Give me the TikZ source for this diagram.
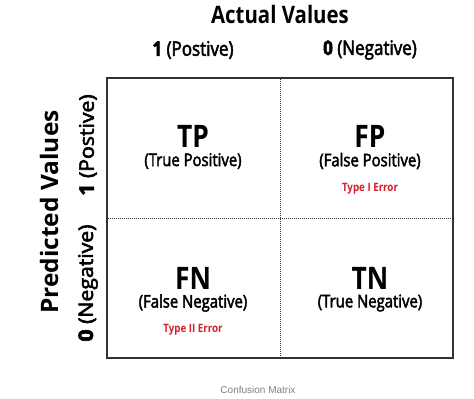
\documentclass[tikz,border=0pt]{standalone}
\usepackage{fontspec}
\setmainfont{Open Sans}[FakeStretch=0.85]
\newfontfamily\semifont{Open Sans}[FakeStretch=0.85, FakeBold=2.5]
\newfontfamily\capfont{Liberation Sans}
\usetikzlibrary{positioning}
\definecolor{errred}{RGB}{208,32,42}
\definecolor{boxgray}{RGB}{50,50,50}
\tikzset{
  axis/.style={font=\bfseries\fontsize{24}{26}\selectfont},
  head/.style={font=\semifont\fontsize{20}{22}\selectfont},
  abbr/.style={font=\bfseries\fontsize{31}{32}\selectfont, inner sep=0pt, text depth=0pt},
  full/.style={font=\semifont\fontsize{17.5}{19}\selectfont, inner sep=0pt},
  err/.style={font=\bfseries\fontsize{11.5}{12}\selectfont, text=errred, inner sep=0pt},
}
\begin{document}
\begin{tikzpicture}[x=1pt, y=-1pt]
	\useasboundingbox (0, 0) rectangle (474, 399);
	\node[draw=boxgray, line width=1.5pt, minimum width=346pt, minimum height=280pt, inner sep=0pt] (box) at (280, 218) {};
	\draw[boxgray, densely dotted, line width=1pt] (box.north) -- (box.south);
	\draw[boxgray, densely dotted, line width=1pt] (box.west) -- (box.east);
	\node[axis] (actual) at (280, 14) {Actual Values};
	\node[head] (apos) at (193, 50) {\textbf{1} (Postive)};
	\node[head] (aneg) at (370, 50) {\textbf{0} (Negative)};
	\node[axis, rotate=90, xscale=1.2] (pred) at (49, 212) {Predicted Values};
	\node[head, rotate=90, xscale=1.25] (ppos) at (88, 145) {\textbf{1} (Postive)};
	\node[head, rotate=90, xscale=1.25] (pneg) at (88, 283) {\textbf{0} (Negative)};
	\node[abbr] (tp) at (193, 136) {TP};
	\node[full] (tpf) at (193, 161) {(True Positive)};
	\node[abbr] (fp) at (370, 136) {FP};
	\node[full] (fpf) at (370, 161) {(False Positive)};
	\node[err] (fperr) at (370, 189) {Type I Error};
	\node[abbr] (fn) at (193, 278) {FN};
	\node[full] (fnf) at (193, 303) {(False Negative)};
	\node[err] (fnerr) at (193, 330) {Type II Error};
	\node[abbr] (tn) at (370, 278) {TN};
	\node[full] (tnf) at (370, 303) {(True Negative)};
	\node[font=\capfont\fontsize{10}{11}\selectfont, text=gray] (cap) at (258, 390) {Confusion Matrix};
\end{tikzpicture}
\end{document}
